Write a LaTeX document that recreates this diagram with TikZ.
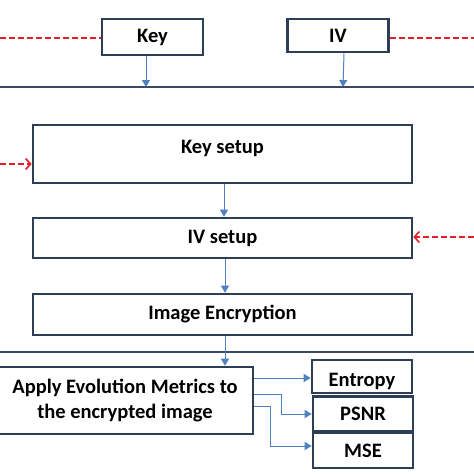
\documentclass[tikz,border=0pt]{standalone}
\usepackage{fontspec}
\setmainfont{Carlito}
\usetikzlibrary{arrows.meta}
\definecolor{boxnavy}{HTML}{2F3E58}
\definecolor{flowblue}{HTML}{4F81BD}
\definecolor{keyred}{HTML}{E3202A}
\definecolor{sepgrey}{HTML}{3A4A66}
\begin{document}
\begin{tikzpicture}[x=1pt,y=-1pt,
  blk/.style={draw=boxnavy,line width=2.6pt,fill=white,inner sep=0pt,
    font=\fontsize{20.5}{25}\selectfont\bfseries,align=center},
  flow/.style={draw=flowblue,line width=1pt,-{Triangle[length=7pt,width=8pt]}},
  feed/.style={draw=keyred,line width=1.6pt,dash pattern=on 6pt off 3pt},
  sep/.style={draw=sepgrey,line width=1.3pt}]
\useasboundingbox (0,0) rectangle (474,474);
\node[blk,minimum width=101pt,minimum height=36pt] (key) at (152.5,37) {Key};
\node[blk,minimum width=101pt,minimum height=33pt] (iv) at (338,35.5) {IV};
\coordinate (keyfar) at (0,38);
\coordinate (ivfar) at (474,38);
\draw[feed] (keyfar)--(key.west |- keyfar);
\draw[feed] (iv.east |- ivfar)--(ivfar);
\coordinate (topsep) at (0,87);
\draw[sep] (topsep)--(474,87);
\draw[flow] ([xshift=-6.5pt]key.south)--([xshift=-6.5pt]key.south |- topsep);
\draw[flow] ([xshift=6pt]iv.south)--([xshift=5pt]iv.south |- topsep);
\node[blk,minimum width=379pt,minimum height=58pt,text depth=14pt] (ksetup) at (222.5,154) {Key setup};
\node[blk,minimum width=379pt,minimum height=40pt] (ivsetup) at (222.5,238) {IV setup};
\node[blk,minimum width=379pt,minimum height=41pt] (enc) at (222.5,314.5) {Image Encryption};
\coordinate (kin) at (0,164);
\coordinate (ivin) at (474,237);
\draw[feed,-{Straight Barb[length=5pt,width=11pt]}] (kin)--(ksetup.west |- kin);
\draw[feed,-{Straight Barb[length=5pt,width=11pt]}] (ivin)--(ivsetup.east |- ivin);
\draw[flow] ([xshift=1.5pt]ksetup.south)--([xshift=1.5pt]ivsetup.north);
\draw[flow] ([xshift=2.5pt]ivsetup.south)--([xshift=2.5pt]enc.north);
\coordinate (botsep) at (0,352);
\draw[sep] (botsep)--(474,352);
\node[blk,minimum width=256pt,minimum height=67pt] (apply) at (125,400.5) {Apply Evolution Metrics to\\the encrypted image};
\draw[flow] ([xshift=2.5pt]enc.south)--([xshift=2.5pt]apply.north -| enc.south);
% metric boxes
\node[blk,minimum width=100pt,minimum height=33pt] (entropy) at (362,376.5) {};
\node[font=\fontsize{20.5}{25}\selectfont\bfseries] at (362,381) {Entropy};
\node[blk,minimum width=100pt,minimum height=35pt] (psnr) at (363,414) {PSNR};
\node[blk,minimum width=100pt,minimum height=35pt] (mse) at (363,450.5) {MSE};
\draw[flow] (apply.east |- 0,378)--(entropy.west |- 0,378);
\draw[flow] ([yshift=6.5pt]apply.east) -| ([xshift=-30pt]psnr.west) -- (psnr.west);
\draw[flow] ([yshift=-5.5pt]apply.east) -| ([xshift=-41pt,yshift=4.5pt]mse.west) -- ([yshift=4.5pt]mse.west);
\end{tikzpicture}
\end{document}
